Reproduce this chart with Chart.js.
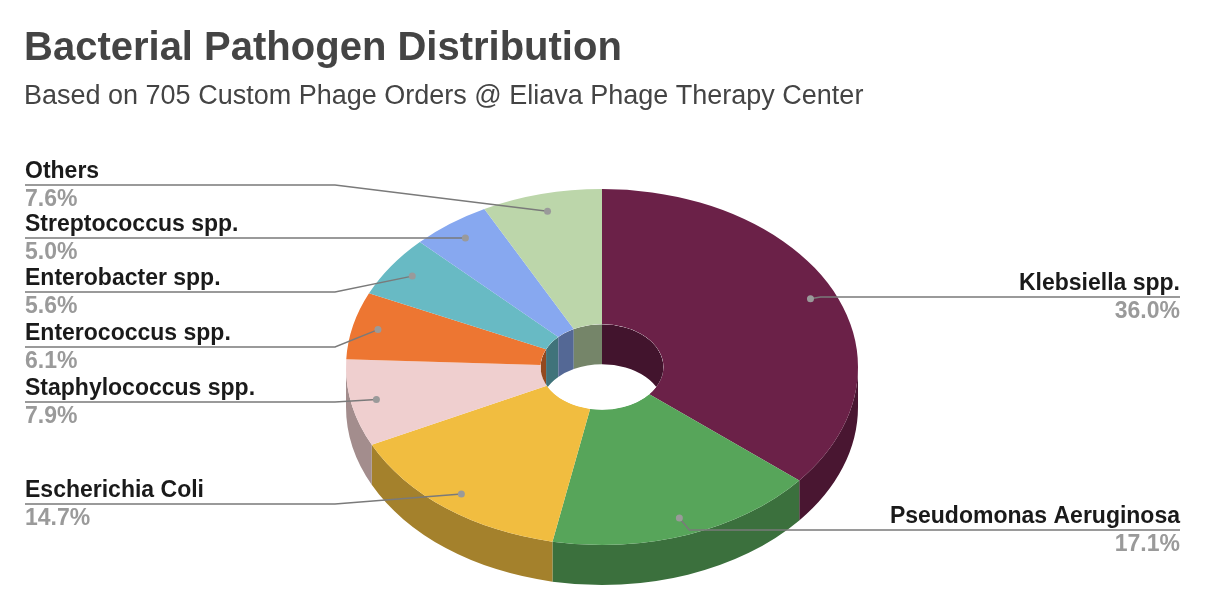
<!DOCTYPE html>
<html>
<head>
<meta charset="utf-8">
<script src="https://cdn.jsdelivr.net/npm/chart.js@4"></script>
<style>
  body { margin: 0; background: #fff; }
  #wrap { width: 1206px; height: 616px; position: relative; }
</style>
</head>
<body>
<div id="wrap"><canvas id="pathogenChart"></canvas></div>
<script>
// Data (percent of 705 orders)
const categories = ['Klebsiella spp.', 'Pseudomonas Aeruginosa', 'Escherichia Coli', 'Staphylococcus spp.',
    'Enterococcus spp.', 'Enterobacter spp.', 'Streptococcus spp.', 'Others'];
const shares = [36.0, 17.1, 14.7, 7.9, 6.1, 5.6, 5.0, 7.6];
const colors = ['#6b2148', '#57a55a', '#f1bd40', '#efcfcf', '#ed7632', '#68bac4', '#87a8f0', '#bcd6aa'];

// label placement: side and text y (name baseline)
const labelPos = [
    { side: 'right', y: 290 }, { side: 'right', y: 523 }, { side: 'left', y: 497 },
    { side: 'left', y: 395 }, { side: 'left', y: 340 }, { side: 'left', y: 285 },
    { side: 'left', y: 231 }, { side: 'left', y: 178 }
];

const CX = 602, CY = 367, K = 178 / 256, DEPTH = 40;
const FONT = '"Liberation Sans", Arial, sans-serif';

function shade(hex, f) {
    const n = parseInt(hex.slice(1), 16);
    const r = Math.round(((n >> 16) & 255) * f), g = Math.round(((n >> 8) & 255) * f), b = Math.round((n & 255) * f);
    return `rgb(${r},${g},${b})`;
}

function ringWall(ctx, r, s, e, color) {
    ctx.beginPath();
    ctx.ellipse(CX, CY, r, r * K, 0, s, e);
    ctx.ellipse(CX, CY + DEPTH, r, r * K, 0, e, s, true);
    ctx.closePath();
    ctx.fillStyle = color;
    ctx.fill();
}

const pie3d = {
    id: 'pie3d',
    beforeDatasetsDraw(chart) {
        const ctx = chart.ctx;
        const arcs = chart.getDatasetMeta(0).data;
        ctx.save();

        // outer side walls (front half)
        arcs.forEach((el, i) => {
            const s = Math.max(el.startAngle, 0), e = Math.min(el.endAngle, Math.PI);
            if (s < e) ringWall(ctx, el.outerRadius, s, e, shade(colors[i], 0.68));
        });

        // top faces
        arcs.forEach((el, i) => {
            ctx.beginPath();
            ctx.ellipse(CX, CY, el.outerRadius, el.outerRadius * K, 0, el.startAngle, el.endAngle);
            ctx.ellipse(CX, CY, el.innerRadius, el.innerRadius * K, 0, el.endAngle, el.startAngle, true);
            ctx.closePath();
            ctx.fillStyle = colors[i];
            ctx.fill();
        });

        // inner walls seen through the hole (back half)
        const r0 = arcs[0].innerRadius;
        ctx.save();
        ctx.beginPath();
        ctx.ellipse(CX, CY, r0, r0 * K, 0, 0, Math.PI * 2);
        ctx.clip();
        ctx.fillStyle = '#fff';
        ctx.fill();
        arcs.forEach((el, i) => {
            [[-Math.PI / 2, 0], [Math.PI, Math.PI * 1.5]].forEach(([lo, hi]) => {
                const s = Math.max(el.startAngle, lo), e = Math.min(el.endAngle, hi);
                if (s < e) ringWall(ctx, el.innerRadius, s, e, shade(colors[i], 0.62));
            });
        });
        ctx.restore();

        // titles
        ctx.fillStyle = '#444';
        ctx.textAlign = 'left';
        ctx.font = 'bold 40px ' + FONT;
        ctx.fillText('Bacterial Pathogen Distribution', 24, 60);
        ctx.font = '27px ' + FONT;
        ctx.fillText('Based on 705 Custom Phage Orders @ Eliava Phage Therapy Center', 24, 104);

        // labels with leader lines
        arcs.forEach((el, i) => {
            const mid = (el.startAngle + el.endAngle) / 2;
            const rr = el.outerRadius * 0.9;
            const dx = CX + rr * Math.cos(mid), dy = CY + rr * K * Math.sin(mid);
            const lp = labelPos[i];
            const ly = lp.y + 7;
            ctx.strokeStyle = '#7a7a7a';
            ctx.lineWidth = 1.5;
            ctx.beginPath();
            if (lp.side === 'right') {
                ctx.moveTo(dx, dy); ctx.lineTo(dx + 10, ly); ctx.lineTo(1180, ly);
            } else {
                ctx.moveTo(25, ly); ctx.lineTo(335, ly); ctx.lineTo(dx, dy);
            }
            ctx.stroke();
            ctx.beginPath();
            ctx.arc(dx, dy, 3.5, 0, Math.PI * 2);
            ctx.fillStyle = '#9a9a9a';
            ctx.fill();

            const tx = lp.side === 'right' ? 1180 : 25;
            ctx.textAlign = lp.side === 'right' ? 'right' : 'left';
            ctx.font = 'bold 23px ' + FONT;
            ctx.fillStyle = '#1a1a1a';
            ctx.fillText(categories[i], tx, lp.y);
            ctx.fillStyle = '#9a9a9a';
            ctx.fillText(shares[i].toFixed(1) + '%', tx, lp.y + 28);
        });

        ctx.restore();
        return false;
    }
};

new Chart(document.getElementById('pathogenChart'), {
    type: 'doughnut',
    data: {
        labels: categories,
        datasets: [{ data: shares, backgroundColor: colors, borderWidth: 0 }]
    },
    options: {
        responsive: true,
        maintainAspectRatio: false,
        animation: false,
        cutout: '24%',
        layout: { padding: { left: 346, right: 348, top: 50, bottom: 54 } },
        plugins: { legend: { display: false }, tooltip: { enabled: false } }
    },
    plugins: [pie3d]
});
</script>
</body>
</html>
